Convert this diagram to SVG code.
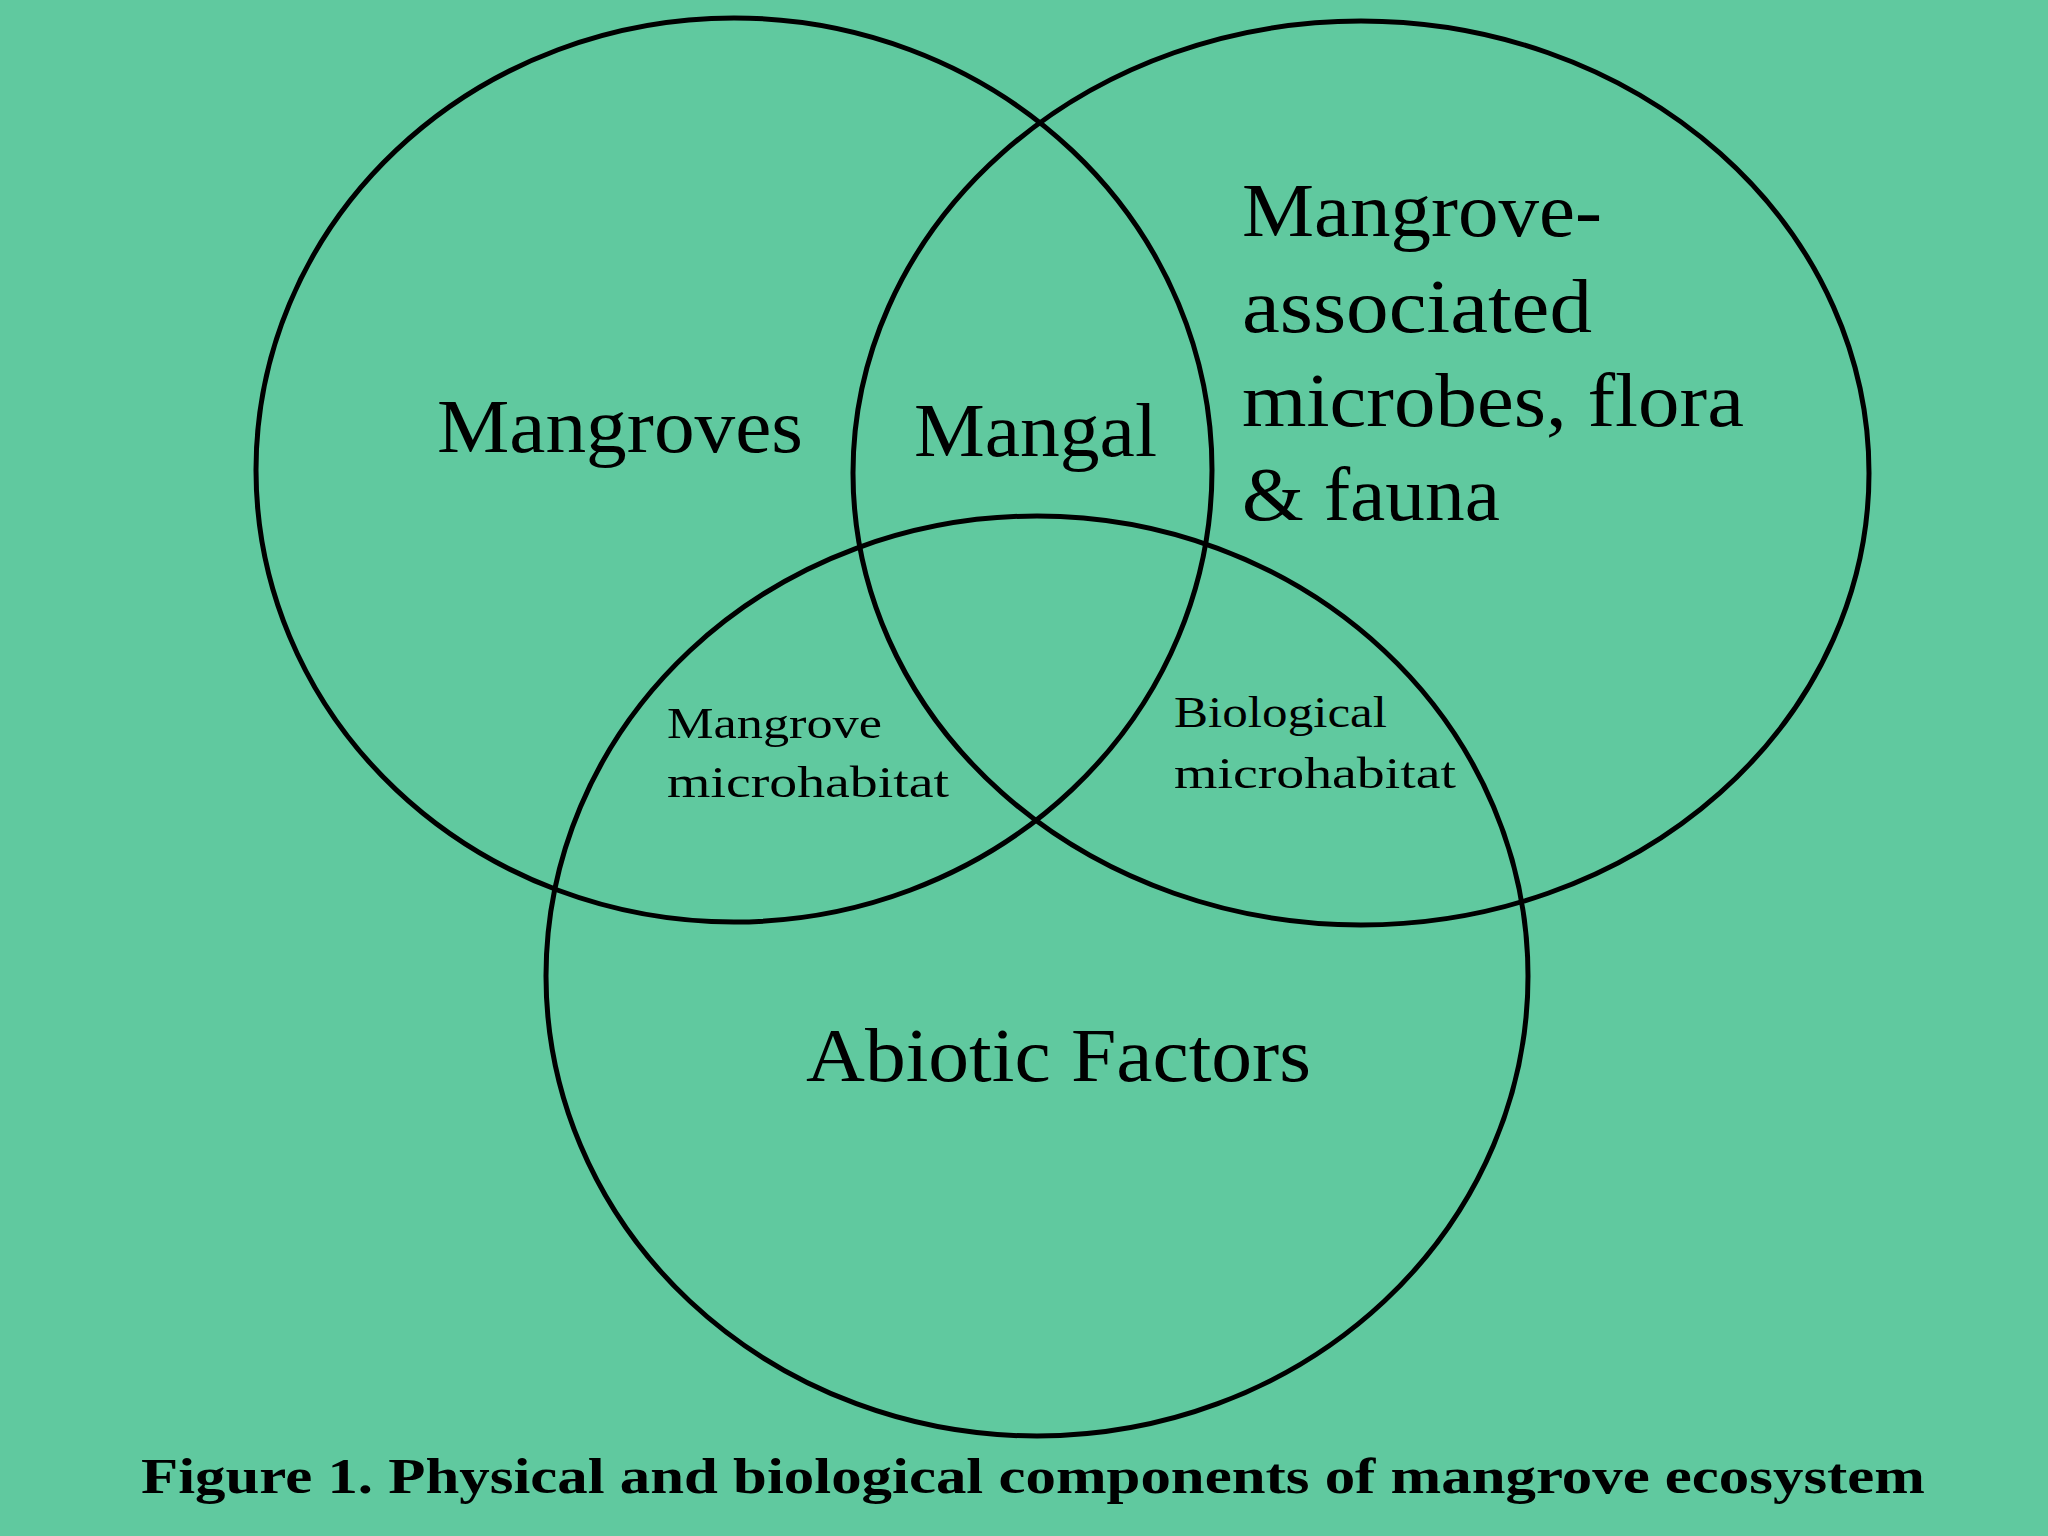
<svg xmlns="http://www.w3.org/2000/svg" width="2048" height="1536" viewBox="0 0 2048 1536">
<style>
.c{fill:none;stroke:#000;stroke-width:5}
text{font-family:"Liberation Serif","DejaVu Serif",serif;fill:#000}
.b{font-size:76px}
.s{font-size:45px}
.cap{font-size:50px;font-weight:bold}
</style>
<rect width="2048" height="1536" fill="#60C99F"/>
<g id="mangroves"><ellipse class="c" cx="734" cy="470" rx="478" ry="452"/>
<text class="b" x="437" y="452" textLength="366" lengthAdjust="spacingAndGlyphs">Mangroves</text></g>
<g id="associated"><ellipse class="c" cx="1361" cy="473" rx="508" ry="452"/>
<text class="b" x="1242" y="236" textLength="360" lengthAdjust="spacingAndGlyphs">Mangrove-</text>
<text class="b" x="1242" y="332" textLength="350" lengthAdjust="spacingAndGlyphs">associated</text>
<text class="b" x="1242" y="426" textLength="502" lengthAdjust="spacingAndGlyphs">microbes, flora</text>
<text class="b" x="1242" y="520" textLength="258" lengthAdjust="spacingAndGlyphs">&amp; fauna</text></g>
<g id="abiotic"><ellipse class="c" cx="1037" cy="976" rx="491" ry="460"/>
<text class="b" x="806" y="1081" textLength="505" lengthAdjust="spacingAndGlyphs">Abiotic Factors</text></g>
<g id="mangal"><text class="b" x="914" y="456" textLength="243" lengthAdjust="spacingAndGlyphs">Mangal</text></g>
<g id="mangrove-microhabitat">
<text class="s" x="667" y="738" textLength="215" lengthAdjust="spacingAndGlyphs">Mangrove</text>
<text class="s" x="667" y="797" textLength="282" lengthAdjust="spacingAndGlyphs">microhabitat</text></g>
<g id="biological-microhabitat">
<text class="s" x="1174" y="727" textLength="213" lengthAdjust="spacingAndGlyphs">Biological</text>
<text class="s" x="1174" y="788" textLength="282" lengthAdjust="spacingAndGlyphs">microhabitat</text></g>
<text class="cap" x="141" y="1493" textLength="1784" lengthAdjust="spacingAndGlyphs">Figure 1. Physical and biological components of mangrove ecosystem</text>
<g id="connectors"/>
</svg>
